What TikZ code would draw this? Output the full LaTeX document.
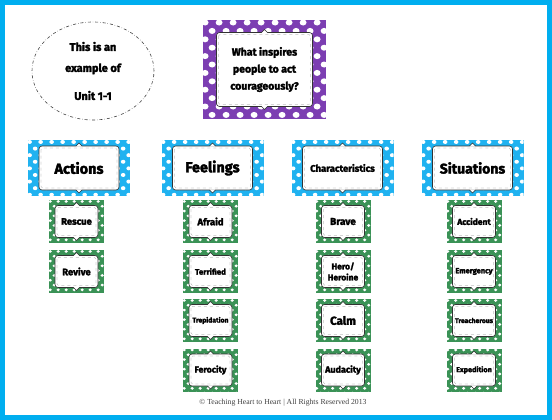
\documentclass[tikz,border=0pt]{standalone}
\usepackage{fontspec}
\setmainfont{Fira Sans}[BoldFeatures={FakeBold=2.5}]
\newfontfamily\notefont{Liberation Serif}
\usetikzlibrary{shapes.geometric}
\definecolor{framecyan}{RGB}{0,174,239}
\definecolor{dotblue}{RGB}{32,178,240}
\definecolor{dotgreen}{RGB}{58,146,86}
\definecolor{dotpurple}{RGB}{124,62,178}
\tikzset{
  card/.style n args={4}{inner sep=0pt,align=center,text=black,
    path picture={
      \foreach \j in {0,...,16}{\foreach \i in {0,...,12}{
        \fill[white] ([xshift={(\i+0.5*mod(\j,2)+0.15)*#1*1pt},yshift={-(\j+0.3)*#1*0.6pt}]path picture bounding box.north west) circle[x radius=#2pt*1.15,y radius=#2pt];}}
      \draw[black!80,fill=white,rounded corners=3pt,line width=0.6pt]
        ([shift={(#3pt,-#4pt)}]path picture bounding box.north west) rectangle ([shift={(-#3pt,#4pt)}]path picture bounding box.south east);
      \fill[white] ([shift={(-3pt,-#4pt-0.6pt)}]path picture bounding box.north) -- ([shift={(0pt,-#4pt+3pt)}]path picture bounding box.north) -- ([shift={(3pt,-#4pt-0.6pt)}]path picture bounding box.north) -- cycle;
      \draw[black!80,line width=0.6pt] ([shift={(-3pt,-#4pt)}]path picture bounding box.north) -- ([shift={(0pt,-#4pt+3pt)}]path picture bounding box.north) -- ([shift={(3pt,-#4pt)}]path picture bounding box.north);
      \fill[white] ([shift={(-3pt,#4pt+0.6pt)}]path picture bounding box.south) -- ([shift={(0pt,#4pt-3pt)}]path picture bounding box.south) -- ([shift={(3pt,#4pt+0.6pt)}]path picture bounding box.south) -- cycle;
      \draw[black!80,line width=0.6pt] ([shift={(-3pt,#4pt)}]path picture bounding box.south) -- ([shift={(0pt,#4pt-3pt)}]path picture bounding box.south) -- ([shift={(3pt,#4pt)}]path picture bounding box.south);
      \draw[black!45,dashed,line width=0.3pt,rounded corners=1.5pt]
        ([shift={(#3pt+2pt,-#4pt-2pt)}]path picture bounding box.north west) rectangle ([shift={(-#3pt-2pt,#4pt+2pt)}]path picture bounding box.south east);
    }},
  head/.style={card={11}{2}{11}{6},fill=dotblue,minimum width=102pt,minimum height=56pt},
  word/.style={card={8}{1.5}{6}{5.5},fill=dotgreen,minimum width=55pt,minimum height=43pt},
  big/.style={card={14}{3}{13.5}{12.5},fill=dotpurple,minimum width=123pt,minimum height=99pt},
  note/.style={ellipse,draw=black!75,dash dot,line width=0.6pt,minimum width=122pt,minimum height=98pt,align=center},
  fs/.style 2 args={font=\bfseries\fontsize{#1}{#2}\selectfont}
}

\begin{document}
\begin{tikzpicture}[x=1pt,y=-1pt]
\useasboundingbox (0,0) rectangle (552,420);
\draw[framecyan,line width=5pt] (2.5,2.5) rectangle (549.5,417.5);
% top row
\node[note,fs={11}{21}] (unit) at (93,71) {This is an\\example of\\[7pt]Unit 1-1};
\node[big,fs={10.5}{17}] (question) at (264.5,69.5) {What inspires\\people to act\\courageously?};
% headers
\node[head,fs={14.5}{15}] (actions) at (79,168) {Actions};
\node[head,fs={14.5}{15}] (feelings) at (212.5,168) {Feelings};
\node[head,fs={9.5}{10}] (traits) at (342.5,168) {Characteristics};
\node[head,fs={14}{15}] (situations) at (472.5,168) {Situations};
% actions
\node[word,fs={9.5}{11}] (rescue) at (76.5,221.5) {Rescue};
\node[word,fs={9.5}{11}] (revive) at (76.5,271.5) {Revive};
% feelings
\node[word,fs={9.5}{11}] (afraid) at (210.5,221.5) {Afraid};
\node[word,fs={8}{9}] (terrified) at (210.5,271.5) {Terrified};
\node[word,fs={6.8}{8}] (trepidation) at (210.5,320.5) {Trepidation};
\node[word,fs={8.8}{10}] (ferocity) at (210.5,370) {Ferocity};
% characteristics
\node[word,fs={10}{11}] (brave) at (343,221.5) {Brave};
\node[word,fs={8.5}{11}] (hero) at (343,271.5) {Hero/\\Heroine};
\node[word,fs={11.5}{12}] (calm) at (343,320.5) {Calm};
\node[word,fs={9}{10}] (audacity) at (343,370) {Audacity};
% situations
\node[word,fs={8.5}{10}] (accident) at (474,221.5) {Accident};
\node[word,fs={7.5}{9}] (emergency) at (474,271.5) {Emergency};
\node[word,fs={6.8}{8}] (treacherous) at (474,320.5) {Treacherous};
\node[word,fs={7.3}{8}] (expedition) at (474,370) {Expedition};
\node[font=\notefont\fontsize{7.7}{8}\selectfont,text=black!75] (credit) at (283,403) {\textcopyright{} Teaching Heart to Heart | All Rights Reserved 2013};
\end{tikzpicture}
\end{document}
